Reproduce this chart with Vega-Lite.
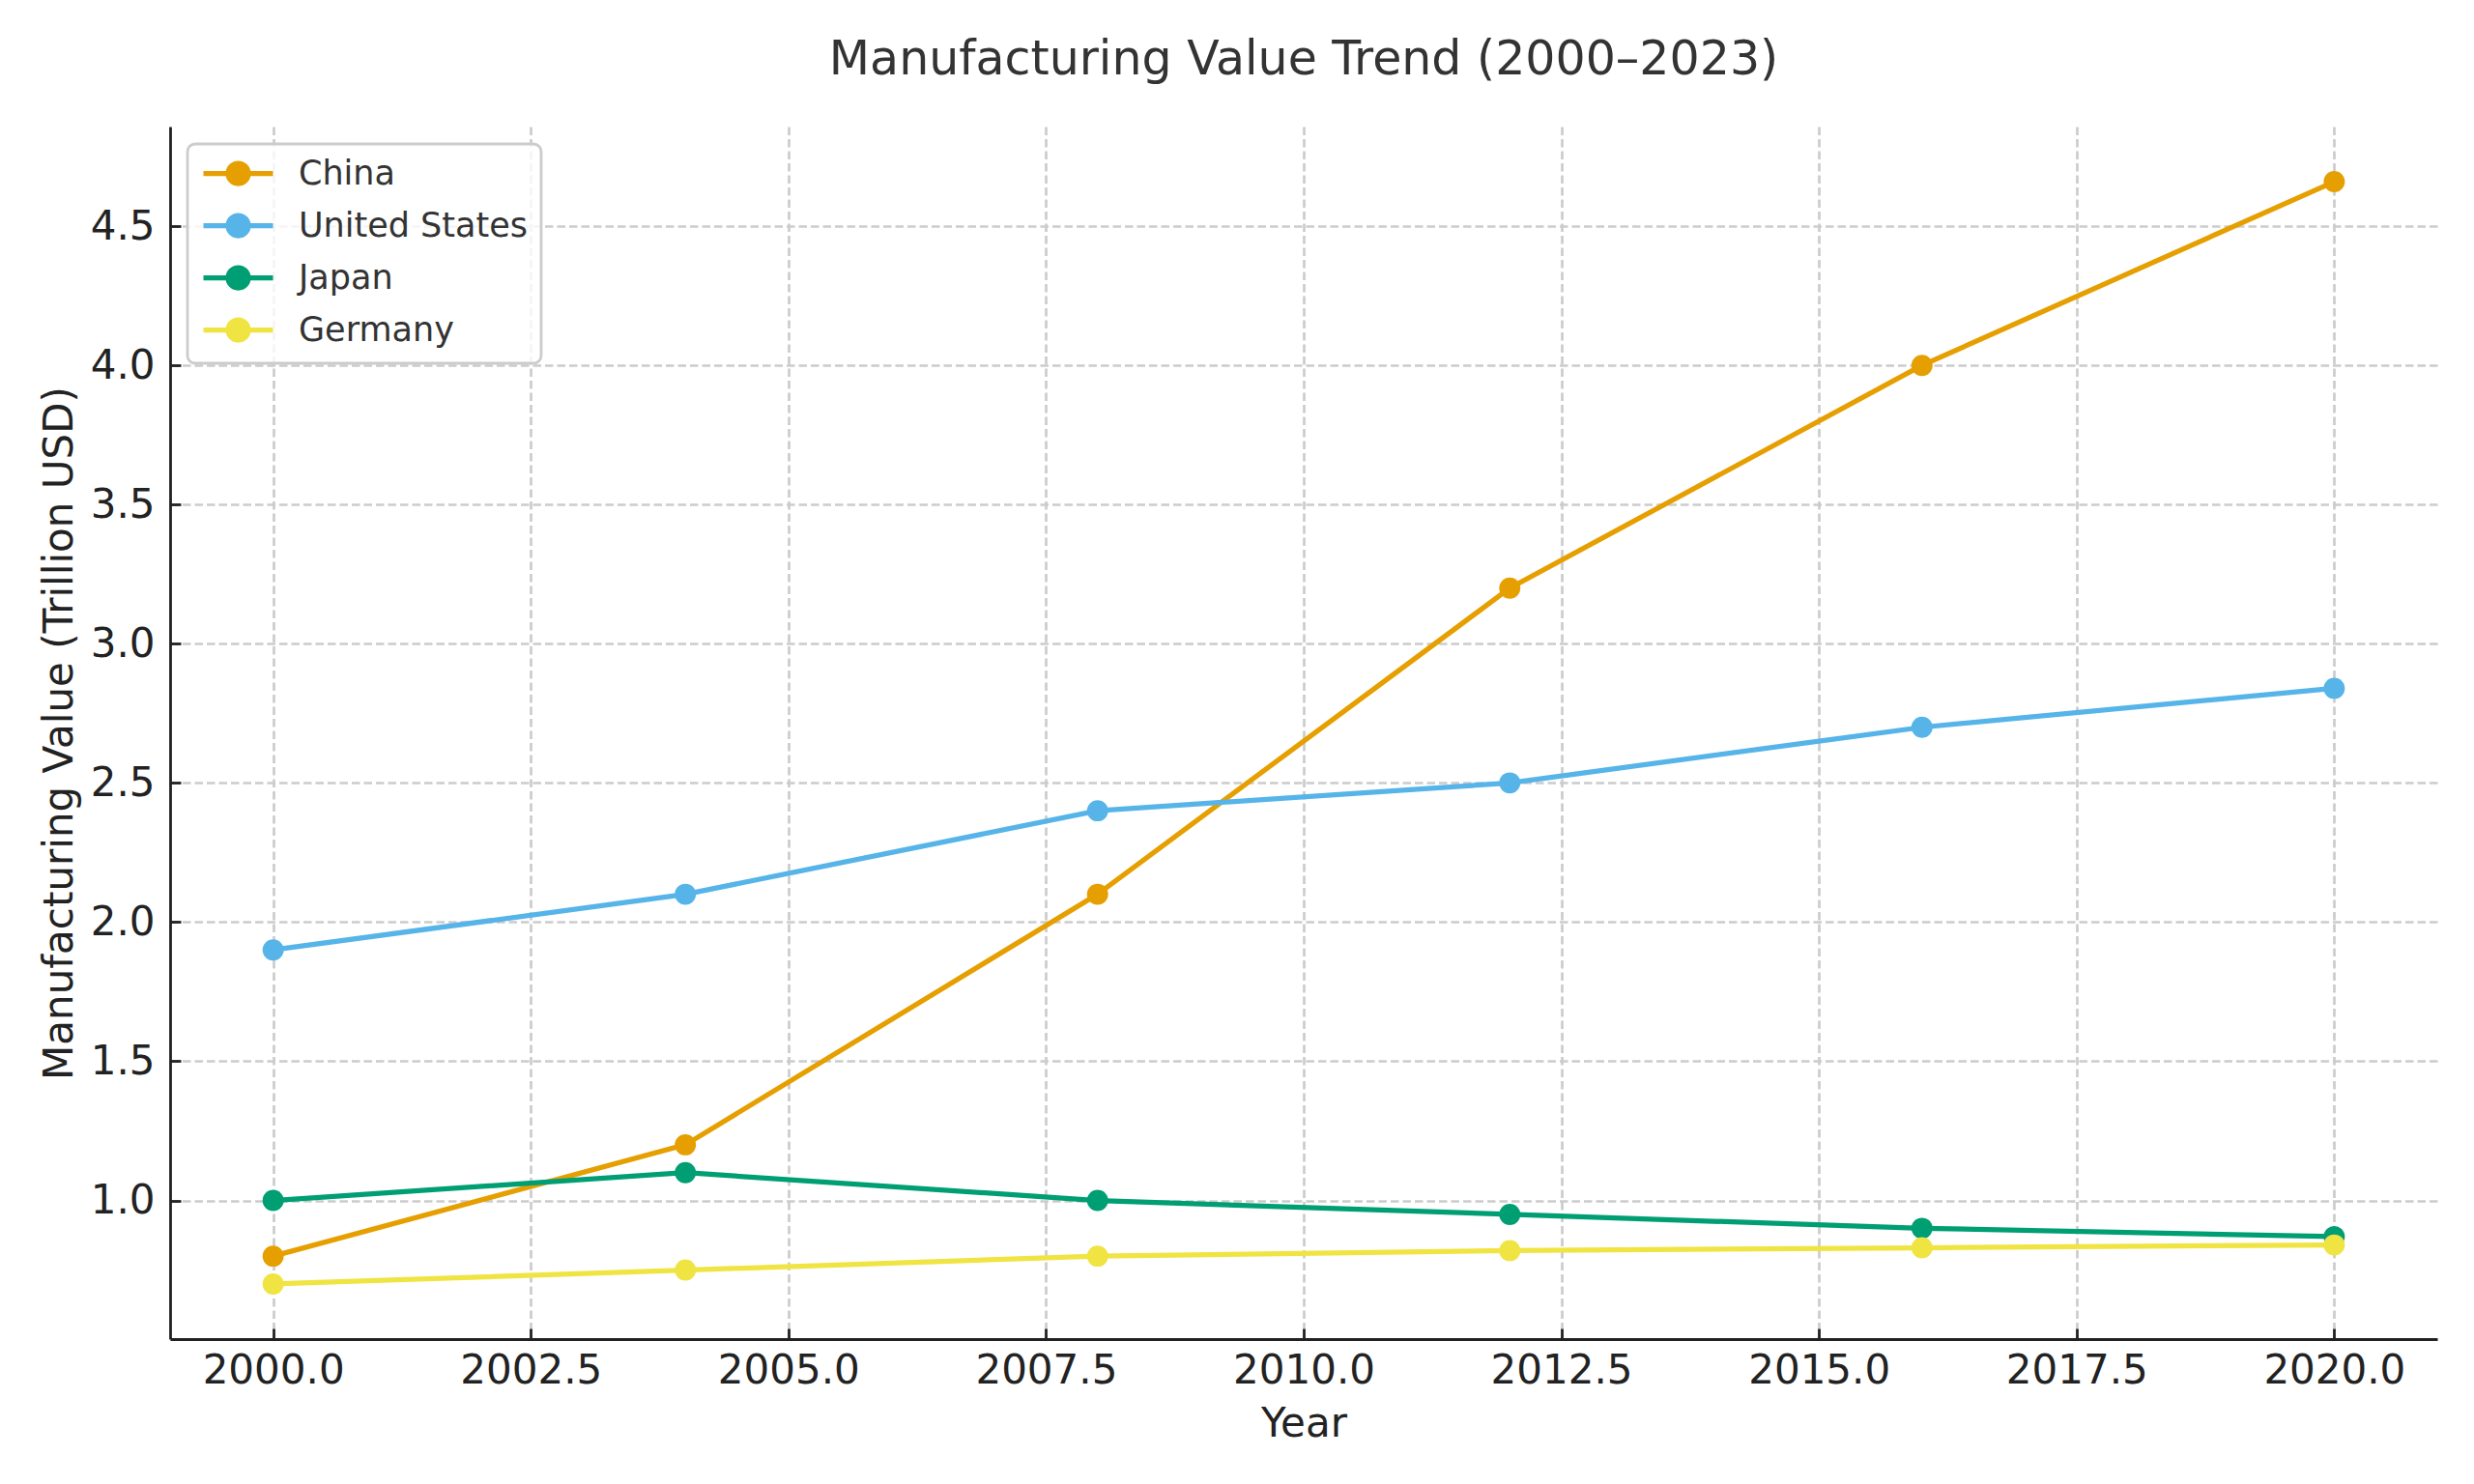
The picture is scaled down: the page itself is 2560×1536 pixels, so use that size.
{
  "$schema": "https://vega.github.io/schema/vega-lite/v6.json",
  "width": 2346,
  "height": 1255,
  "autosize": {"type": "none"},
  "padding": {"left": 176, "top": 131, "right": 38, "bottom": 150},
  "background": "white",
  "title": {
    "text": "Manufacturing Value Trend (2000–2023)",
    "font": "DejaVu Sans",
    "fontSize": 49,
    "fontWeight": "normal",
    "color": "#333333",
    "anchor": "middle",
    "offset": 44
  },
  "config": {
    "view": {"stroke": null},
    "axis": {
      "labelFont": "DejaVu Sans",
      "titleFont": "DejaVu Sans",
      "labelFontSize": 42,
      "titleFontSize": 42,
      "titleFontWeight": "normal",
      "labelColor": "#222222",
      "titleColor": "#222222",
      "domainColor": "#222222",
      "domainWidth": 2.8,
      "tickColor": "#222222",
      "tickWidth": 2.8,
      "tickSize": -11,
      "grid": true,
      "gridColor": "#cccccc",
      "gridDash": [8.5, 4],
      "gridWidth": 2.7,
      "labelFlush": false,
      "labelOverlap": false
    }
  },
  "data": {
    "values": [
      {"year": 2000, "country": "China", "value": 0.8},
      {"year": 2004, "country": "China", "value": 1.2},
      {"year": 2008, "country": "China", "value": 2.1},
      {"year": 2012, "country": "China", "value": 3.2},
      {"year": 2016, "country": "China", "value": 4.0},
      {"year": 2020, "country": "China", "value": 4.66},
      {"year": 2000, "country": "United States", "value": 1.9},
      {"year": 2004, "country": "United States", "value": 2.1},
      {"year": 2008, "country": "United States", "value": 2.4},
      {"year": 2012, "country": "United States", "value": 2.5},
      {"year": 2016, "country": "United States", "value": 2.7},
      {"year": 2020, "country": "United States", "value": 2.84},
      {"year": 2000, "country": "Japan", "value": 1.0},
      {"year": 2004, "country": "Japan", "value": 1.1},
      {"year": 2008, "country": "Japan", "value": 1.0},
      {"year": 2012, "country": "Japan", "value": 0.95},
      {"year": 2016, "country": "Japan", "value": 0.9},
      {"year": 2020, "country": "Japan", "value": 0.87},
      {"year": 2000, "country": "Germany", "value": 0.7},
      {"year": 2004, "country": "Germany", "value": 0.75},
      {"year": 2008, "country": "Germany", "value": 0.8},
      {"year": 2012, "country": "Germany", "value": 0.82},
      {"year": 2016, "country": "Germany", "value": 0.83},
      {"year": 2020, "country": "Germany", "value": 0.84}
    ]
  },
  "encoding": {
    "x": {
      "field": "year",
      "type": "quantitative",
      "scale": {"domain": [1999, 2021], "nice": false, "zero": false},
      "axis": {
        "title": "Year",
        "values": [2000, 2002.5, 2005, 2007.5, 2010, 2012.5, 2015, 2017.5, 2020],
        "format": ".1f",
        "labelPadding": 23,
        "titlePadding": 14
      }
    },
    "y": {
      "field": "value",
      "type": "quantitative",
      "scale": {"domain": [0.502, 4.858], "nice": false, "zero": false},
      "axis": {
        "title": "Manufacturing Value (Trillion USD)",
        "values": [1.0, 1.5, 2.0, 2.5, 3.0, 3.5, 4.0, 4.5],
        "format": ".1f",
        "labelPadding": 27,
        "titlePadding": 10
      }
    },
    "color": {
      "field": "country",
      "type": "nominal",
      "scale": {
        "domain": ["China", "United States", "Japan", "Germany"],
        "range": ["#E69F00", "#56B4E9", "#009E73", "#F0E442"]
      },
      "legend": {
        "title": null,
        "orient": "none",
        "legendX": 18,
        "legendY": 18,
        "direction": "vertical",
        "symbolType": "M-2.571,0L2.571,0M-0.75,0A0.75,0.75 0 1,0 0.75,0A0.75,0.75 0 1,0 -0.75,0Z",
        "symbolSize": 784,
        "symbolStrokeWidth": 5.25,
        "symbolOffset": 22,
        "labelOffset": 45,
        "labelLimit": 0,
        "labelFont": "DejaVu Sans",
        "labelFontSize": 35,
        "labelColor": "#333333",
        "rowPadding": 11,
        "padding": 13,
        "fillColor": "rgba(255,255,255,0.8)",
        "strokeColor": "#cccccc",
        "cornerRadius": 8,
        "encode": {
          "legend": {"update": {"strokeWidth": {"value": 2.8}}},
          "symbols": {
            "update": {
              "fill": {"scale": "color", "field": "value"},
              "stroke": {"scale": "color", "field": "value"},
              "opacity": {"value": 1}
            }
          }
        }
      }
    }
  },
  "layer": [
    {"mark": {"type": "line", "strokeWidth": 5.25}},
    {"mark": {"type": "point", "filled": true, "size": 480, "opacity": 1}}
  ]
}
